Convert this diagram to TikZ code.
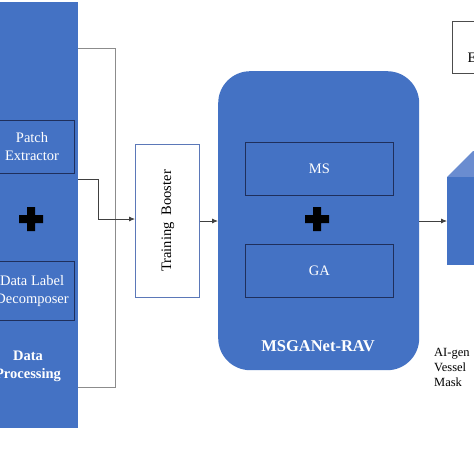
\documentclass[tikz,border=0pt]{standalone}
\usepackage{fontspec}
\setmainfont{Liberation Serif}
\usetikzlibrary{arrows.meta}
\definecolor{officeblue}{HTML}{4472C4}
\definecolor{navy}{HTML}{1F2F5C}
\definecolor{topface}{HTML}{6A8CD0}
\definecolor{bracketgray}{HTML}{8C8C8C}
\definecolor{boostborder}{HTML}{5B78B8}
\tikzset{
  bluepanel/.style={fill=officeblue, draw=none},
  innerbox/.style={draw=navy, line width=0.9pt, fill=officeblue, text=white, align=center, inner sep=0pt},
  whitetxt/.style={text=white, align=center, font=\fontsize{14.5}{17}\selectfont},
  boldtxt/.style={text=white, align=center, font=\fontsize{14.5}{18}\selectfont\bfseries},
  plus/.style={fill=black, draw=none},
  conn/.style={draw=black!75, line width=0.8pt, -{Latex[length=6pt,width=5pt]}},
  bracket/.style={draw=bracketgray, line width=0.9pt},
}
\begin{document}
\begin{tikzpicture}[x=1pt,y=-1pt]
\useasboundingbox (0,0) rectangle (474,474);
\clip (0,0) rectangle (474,474);
\fill[white] (0,0) rectangle (474,474);

% left panel
\node[bluepanel, minimum width=80pt, minimum height=426pt, inner sep=0pt, anchor=north west] (panel) at (-2,2) {};
\node[innerbox, minimum width=85pt, minimum height=53pt, anchor=north east, font=\fontsize{14.5}{18}\selectfont] (patch) at (75,120) {Patch\\Extractor};
\node[innerbox, minimum width=85pt, minimum height=59pt, anchor=north east, font=\fontsize{14.5}{18}\selectfont] (dlabel) at (75,261) {Data Label\\Decomposer};
\node[boldtxt] (dproc) at (28,366) {Data\\Processing};
\fill[plus] (31,219) +(-12,-4) rectangle +(12,4) +(-4,-12) rectangle +(4,12);
\coordinate (plusL) at (31,219);

% bracket connector
\coordinate (bA) at (78,48);
\coordinate (bB) at (78,387);
\draw[bracket] (bA) -| (115,387) -- (bB);

% training booster
\node[draw=boostborder, line width=0.9pt, fill=white, minimum width=64pt, minimum height=153pt, inner sep=0pt, anchor=north west] (boost) at (135,144) {};
\node[rotate=90, font=\fontsize{14.5}{17}\selectfont] (boosttxt) at (168,221) {Training\ \ Booster};

% connector patch -> booster
\coordinate (pS) at (78,179);
\draw[conn] (pS) -- (98,179) |- (boost.west |- 0,219);

% MSGANet
\node[fill=officeblue, rounded corners=32pt, minimum width=201pt, minimum height=299pt, inner sep=0pt, anchor=north west] (msg) at (218,71) {};
\node[innerbox, minimum width=148pt, minimum height=53pt, anchor=north west, font=\fontsize{14.5}{17}\selectfont] (ms) at (245,142) {MS};
\node[innerbox, minimum width=148pt, minimum height=53pt, anchor=north west, font=\fontsize{14.5}{17}\selectfont] (ga) at (245,244) {GA};
\fill[plus] (317,219) +(-12,-4) rectangle +(12,4) +(-4,-12) rectangle +(4,12);
\node[text=white, font=\fontsize{16.5}{20}\selectfont\bfseries] (msgtitle) at (318,346) {MSGANet-RAV};

\draw[conn] (boost.east |- 0,221) -- (msg.west |- 0,221);

% cube
\fill[topface] (447,177) -- (473,151) -- (500,151) -- (500,177) -- cycle;
\node[fill=officeblue, minimum width=60pt, minimum height=88pt, inner sep=0pt, anchor=north west] (cube) at (447,177) {};
\draw[conn] (msg.east |- 0,221) -- (cube.west |- 0,221);

% top right box
\node[draw=black!70, line width=0.9pt, fill=white, minimum width=60pt, minimum height=52pt, inner sep=0pt, anchor=north west] (topbox) at (452,21) {};
\node[anchor=west, font=\fontsize{14.5}{17}\selectfont] (toptxt) at (464,58) {E};

% AI-gen label
\node[anchor=north west, align=left, font=\fontsize{12.5}{15}\selectfont, inner sep=0pt] (ailab) at (434,348) {AI-gen\\Vessel\\Mask};
\end{tikzpicture}
\end{document}
